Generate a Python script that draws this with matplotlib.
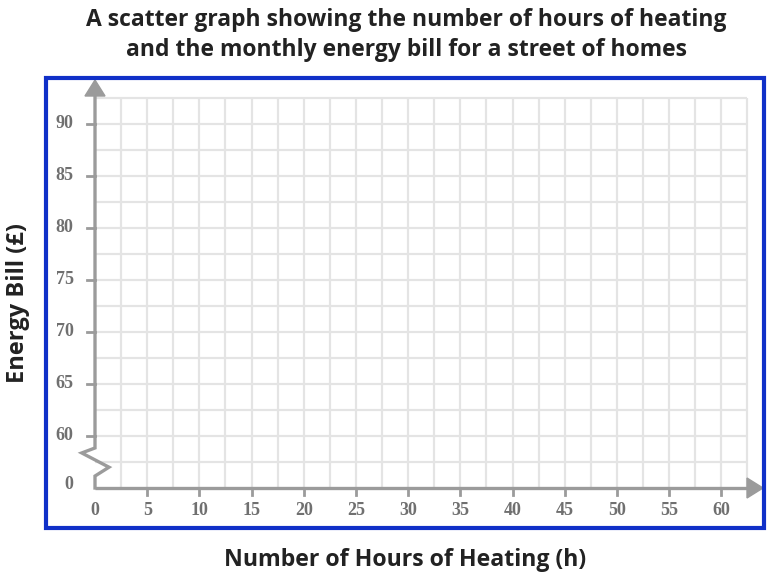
import matplotlib
matplotlib.use("Agg")
import matplotlib.pyplot as plt
from matplotlib.patches import Rectangle, Polygon

# ---- data / labels ----
x_ticks = [5, 10, 15, 20, 25, 30, 35, 40, 45, 50, 55, 60]
x_tick_labels = ["5", "10", "15", "20", "25", "30", "35", "40", "45", "50", "55", "60"]
y_ticks = [60, 65, 70, 75, 80, 85, 90]
y_tick_labels = ["60", "65", "70", "75", "80", "85", "90"]
x_grid = [2.5 * i for i in range(1, 26)]          # 2.5 .. 62.5
y_grid = [55 + 2.5 * i for i in range(1, 16)]     # 57.5 .. 92.5
title = "A scatter graph showing the number of hours of heating\nand the monthly energy bill for a street of homes"
x_label = "Number of Hours of Heating (h)"
y_label = "Energy Bill (£)"

W, H = 768, 575
fig = plt.figure(figsize=(W / 100, H / 100), dpi=100)
ax = fig.add_axes([95 / W, (H - 488) / H, (763 - 95) / W, (488 - 80) / H])
XMAX = 64.0
Y0 = 55.0
YMAX = 55 + 408 / 10.4
ax.set_xlim(0, XMAX)
ax.set_ylim(Y0, YMAX)
ax.axis("off")

grid_c = "#e4e4e4"
axis_c = "#9b9b9b"
lbl_c = "#707070"
GX = 62.5
GY = 92.5

for gx in x_grid:
    ax.plot([gx, gx], [Y0, GY], color=grid_c, lw=1.6, zorder=1, solid_capstyle="butt")
for gy in y_grid:
    ax.plot([0, GX], [gy, gy], color=grid_c, lw=1.6, zorder=1, solid_capstyle="butt")

# x axis
ax.plot([0, XMAX - 1.0], [Y0, Y0], color=axis_c, lw=2.4, zorder=3, clip_on=False,
        solid_capstyle="butt")
ax.add_patch(Polygon([[XMAX, Y0], [XMAX - 16 / 10.44, Y0 + 0.96], [XMAX - 16 / 10.44, Y0 - 0.96]],
                     closed=True, color=axis_c, zorder=3, clip_on=False))
# y axis with zigzag break
zx = [0, 0, -1.27, 1.34, 0, 0]
zy = [YMAX - 1.0, 58.85, 58.37, 57.0, 56.15, Y0]
ax.plot(zx, zy, color=axis_c, lw=2.4, zorder=3, clip_on=False, solid_joinstyle="miter")
ax.add_patch(Polygon([[0, YMAX], [-0.96, YMAX - 16 / 10.4], [0.96, YMAX - 16 / 10.4]],
                     closed=True, color=axis_c, zorder=3, clip_on=False))

# ticks
for t in x_ticks:
    ax.plot([t, t], [Y0, Y0 - 0.7], color=axis_c, lw=2.0, clip_on=False, zorder=3)
for t in y_ticks:
    ax.plot([-0.8, 0], [t, t], color=axis_c, lw=2.0, clip_on=False, zorder=3)

tfont = dict(family="Liberation Serif", fontweight="bold", fontsize=13, color=lbl_c)
for t, s in zip(x_ticks, x_tick_labels):
    ax.text(t, Y0 - 2.2, s, ha="center", va="center", clip_on=False, **tfont)
ax.text(0, Y0 - 2.2, "0", ha="center", va="center", clip_on=False, **tfont)
for t, s in zip(y_ticks, y_tick_labels):
    ax.text(-2.05, t, s, ha="right", va="center", clip_on=False, **tfont)
ax.text(-2.05, Y0 + 0.3, "0", ha="right", va="center", clip_on=False, **tfont)

# border
fig.add_artist(Rectangle((46 / W, (H - 528) / H), (764 - 46) / W, (528 - 77.5) / H,
                         transform=fig.transFigure, fill=False, ec="#1030c8", lw=3, zorder=10))

hfont = dict(family="Open Sans", fontweight="bold", color="#222222")
fig.text(406 / W, 1 - 35 / H, title, ha="center", va="center", fontsize=16.5,
         linespacing=1.3, **hfont)
fig.text(405 / W, 1 - 560 / H, x_label, ha="center", va="center", fontsize=16.7, **hfont)
fig.text(18 / W, 1 - 303 / H, y_label, ha="center", va="center", rotation=90, fontsize=17, **hfont)

fig.savefig("out.png", dpi=100)
